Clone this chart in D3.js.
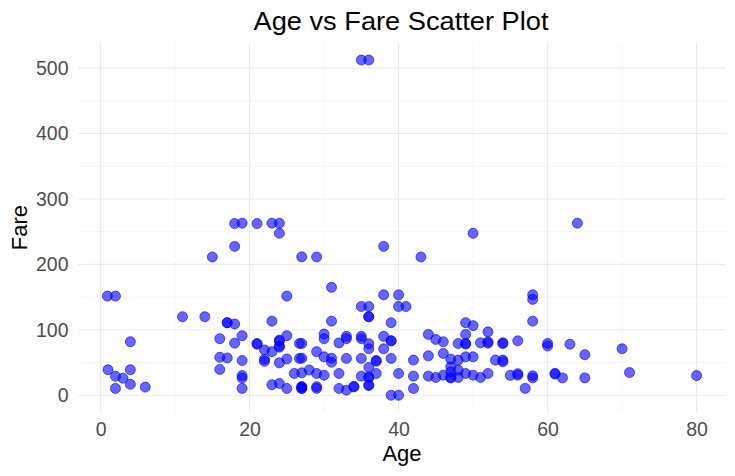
<!DOCTYPE html>
<html><head><meta charset="utf-8">
<script src="https://cdn.jsdelivr.net/npm/d3@7"></script>
<style>body{margin:0;background:#fff}svg{display:block}</style>
</head><body>
<svg id="chart" width="735" height="476"></svg>
<script>
const title = "Age vs Fare Scatter Plot";
const xLabel = "Age";
const yLabel = "Fare";
const xTicks = [0, 20, 40, 60, 80];
const yTicks = [0, 100, 200, 300, 400, 500];
const ages = [35,36,0.92,2,15,18,18,19,21,23,24,24,27,29,25,31,38,38,40,43,58,58,64,50,
  11,14,17,17,18,23,4,1,2,3,4,2,4,6,16,19,18,21,21,16,17,16,19,19,19,19,
  22,22,22,23,24,24,24,24,24,25,25,26,26.7,23,24,25,27,27,
  35,36,36,36,40,41,31,39,30,30,27,29,32,33,33,35,35,36,36,38,39,39,38,
  26.7,27,27,28,29,30,27,27,29,29,30,31,31,32,33,32,33,34,34,35,35,36,36,36,36,36,
  37,37,37,39,40,39,40,42,42,42,44,45,46,44,44,45,46,46,47,47,47,47,47,48,48,48,48,
  49,50,49,49,49,49,50,49,50,51,52,52,52,51,52,53,54,54,54,
  58,56,60,60,63,65,70,54,55,56,56,57,58,58,61,61,62,65,71,80];
const fares = [512.33,512.33,151.55,151.55,211.34,227.53,262.38,263,262.38,263,263,247.52,211.5,211.34,151.55,164.87,227.53,153.46,153.46,211.34,153.46,146.52,263,247.52,
  120,120,110.88,110.88,108.9,113.28,81.86,39,29,26,39,10.46,16.7,12.48,86.5,91.08,79.65,77.96,79.2,57.98,57,39.4,53.1,30,26.28,10.5,
  69.3,55,51.86,66.6,83.16,84.15,73.5,75.25,49.5,91.08,55.4,33.3,79.2,16.1,18,10.4,10.5,13,
  135.63,135.63,120,120,135.63,135.63,113.28,110.88,93.5,86.5,79.2,66.6,80,90,86.5,90,86.5,78.85,71,90,83.16,83.16,71,
  56.3,56.5,34.3,38.5,33.3,30.7,10.5,13,10.5,13,58.7,56.5,50.5,33.3,56.3,10.4,7.8,12.8,13.5,56.3,29.2,42.5,28.1,26.5,15.4,15,
  53.1,52,33.3,56.3,33.3,0,0,53.7,29.2,10.4,93,85.3,81.7,60.2,29.2,27.2,30.7,63.9,55.2,43.4,35.8,27.2,26.5,79.2,53.7,38.4,27.2,
  110.88,106.4,93,79.2,78.3,58.7,58.7,33.3,30.7,80.1,96.9,81.7,79.65,27.2,33.3,53.7,53.7,80.1,79,
  113.28,83.16,79.2,75.25,77.96,61.98,71,51.2,30.4,33,30.7,10.5,29.7,26.55,32.3,33.5,26.55,26.55,34.65,30];
const points = ages.map((a, i) => ({age: a, fare: fares[i]}));

const svg = d3.select("#chart");
const font = "Liberation Sans, Arial, sans-serif";
const pL = 78, pR = 726, pT = 43.3, pB = 412;
const x = d3.scaleLinear().domain([-3.03, 83.95]).range([pL, pR]);
const y = d3.scaleLinear().domain([-25.6, 537.9]).range([pB, pT]);

const grid = svg.append("g");
const xMinor = [10, 30, 50, 70];
const yMinor = [50, 150, 250, 350, 450];
grid.selectAll(".xm").data(xMinor).join("line")
  .attr("x1", d => x(d)).attr("x2", d => x(d)).attr("y1", pT).attr("y2", pB)
  .attr("stroke", "#ebebeb").attr("stroke-width", 0.55);
grid.selectAll(".ym").data(yMinor).join("line")
  .attr("y1", d => y(d)).attr("y2", d => y(d)).attr("x1", pL).attr("x2", pR)
  .attr("stroke", "#ebebeb").attr("stroke-width", 0.55);
grid.selectAll(".xM").data(xTicks).join("line")
  .attr("x1", d => x(d)).attr("x2", d => x(d)).attr("y1", pT).attr("y2", pB)
  .attr("stroke", "#ebebeb").attr("stroke-width", 1.1);
grid.selectAll(".yM").data(yTicks).join("line")
  .attr("y1", d => y(d)).attr("y2", d => y(d)).attr("x1", pL).attr("x2", pR)
  .attr("stroke", "#ebebeb").attr("stroke-width", 1.1);

const xAxis = svg.append("g").attr("transform", `translate(0,${pB})`)
  .call(d3.axisBottom(x).tickValues(xTicks).tickSize(0).tickPadding(10));
const yAxis = svg.append("g").attr("transform", `translate(${pL},0)`)
  .call(d3.axisLeft(y).tickValues(yTicks).tickSize(0).tickPadding(9.5));
[xAxis, yAxis].forEach(g => {
  g.select(".domain").remove();
  g.selectAll("text").attr("font-family", font)
    .attr("font-size", 19.5).attr("fill", "#4d4d4d");
});

svg.append("g").selectAll("circle").data(points).join("circle")
  .attr("cx", d => x(d.age)).attr("cy", d => y(d.fare)).attr("r", 5)
  .attr("fill", "blue").attr("fill-opacity", 0.6)
  .attr("stroke", "blue").attr("stroke-opacity", 0.6).attr("stroke-width", 1);

svg.append("text").attr("x", 401).attr("y", 29.5)
  .attr("text-anchor", "middle").attr("font-family", font)
  .attr("font-size", 25.5).attr("textLength", 295).attr("lengthAdjust", "spacingAndGlyphs")
  .attr("fill", "#000").text(title);
svg.append("text").attr("x", (pL + pR) / 2).attr("y", 461)
  .attr("text-anchor", "middle").attr("font-family", font)
  .attr("font-size", 22).attr("fill", "#000").text(xLabel);
svg.append("text").attr("transform", `translate(26.7,${(pT + pB) / 2}) rotate(-90)`)
  .attr("text-anchor", "middle").attr("font-family", font)
  .attr("font-size", 22).attr("fill", "#000").text(yLabel);
</script>
</body></html>
